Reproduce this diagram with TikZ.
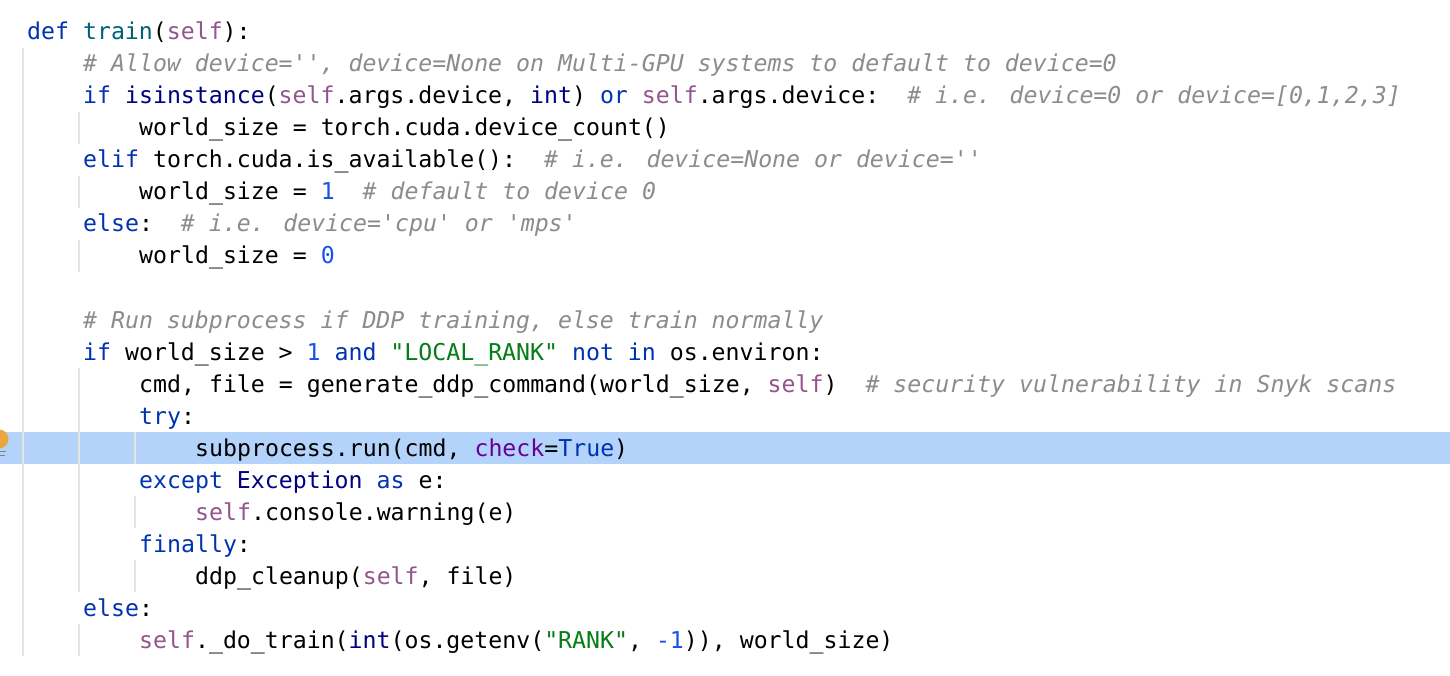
\documentclass[tikz,border=0pt]{standalone}
\usepackage{fontspec}
\newfontfamily\code{DejaVu Sans Mono}[Scale=1]
\definecolor{kw}{HTML}{0033B3}
\definecolor{sfc}{HTML}{94558D}
\definecolor{fnc}{HTML}{00627A}
\definecolor{nmc}{HTML}{1750EB}
\definecolor{stc}{HTML}{067D17}
\definecolor{cmc}{HTML}{8C8C8C}
\definecolor{bic}{HTML}{000080}
\definecolor{nac}{HTML}{660099}
\definecolor{hl}{HTML}{B3D3FA}
\definecolor{guide}{HTML}{E4E4E4}
\definecolor{bulb}{HTML}{E8A83E}
\newcommand{\cK}[1]{\textcolor{kw}{#1}}
\newcommand{\cS}[1]{\textcolor{sfc}{#1}}
\newcommand{\cF}[1]{\textcolor{fnc}{#1}}
\newcommand{\cN}[1]{\textcolor{nmc}{#1}}
\newcommand{\cT}[1]{\textcolor{stc}{#1}}
\newcommand{\cC}[1]{\textcolor{cmc}{\itshape #1}}
\newcommand{\cB}[1]{\textcolor{bic}{#1}}
\newcommand{\cA}[1]{\textcolor{nac}{#1}}
\begin{document}
\begin{tikzpicture}[x=1pt,y=-1pt,
  ln/.style={anchor=base west,inner sep=0pt,font=\code\fontsize{23.2}{28}\selectfont},
  gl/.style={draw=guide,line width=1.5pt}]
\useasboundingbox (0,0) rectangle (1450,676);
\fill[white] (0,0) rectangle (1450,676);
\fill[hl] (0,432) rectangle (1450,464);
\draw[gl] (23,48) -- (23,656);
\foreach \a/\b in {112/144,176/208,240/272,368/592,624/656}{\draw[gl] (79,\a) -- (79,\b);}
\foreach \a/\b in {432/464,496/528,560/592}{\draw[gl] (135,\a) -- (135,\b);}
\fill[bulb] (-1,439) circle (9.5);
\draw[gray,line width=1pt] (0,451) -- (6,451) (0,455) -- (5,455);
\def\L#1#2#3{\node[ln] (l#1) at (27+14*#2,40+32*#1) {#3};}
\L{0}{0}{\cK{def} \cF{train}(\cS{self}):}
\L{1}{4}{\cC{\# Allow device='', device=None on Multi-GPU systems to default to device=0}}
\L{2}{4}{\cK{if} \cB{isinstance}(\cS{self}.args.device, \cB{int}) \cK{or} \cS{self}.args.device:~~\cC{\# i.e. device=0 or device=[0,1,2,3]}}
\L{3}{8}{world\_size = torch.cuda.device\_count()}
\L{4}{4}{\cK{elif} torch.cuda.is\_available():~~\cC{\# i.e. device=None or device=''}}
\L{5}{8}{world\_size = \cN{1}~~\cC{\# default to device 0}}
\L{6}{4}{\cK{else}:~~\cC{\# i.e. device='cpu' or 'mps'}}
\L{7}{8}{world\_size = \cN{0}}
\L{9}{4}{\cC{\# Run subprocess if DDP training, else train normally}}
\L{10}{4}{\cK{if} world\_size > \cN{1} \cK{and} \cT{"LOCAL\_RANK"} \cK{not} \cK{in} os.environ:}
\L{11}{8}{cmd, file = generate\_ddp\_command(world\_size, \cS{self})~~\cC{\# security vulnerability in Snyk scans}}
\L{12}{8}{\cK{try}:}
\L{13}{12}{subprocess.run(cmd, \cA{check}=\cK{True})}
\L{14}{8}{\cK{except} \cB{Exception} \cK{as} e:}
\L{15}{12}{\cS{self}.console.warning(e)}
\L{16}{8}{\cK{finally}:}
\L{17}{12}{ddp\_cleanup(\cS{self}, file)}
\L{18}{4}{\cK{else}:}
\L{19}{8}{\cS{self}.\_do\_train(\cB{int}(os.getenv(\cT{"RANK"}, \cN{-1})), world\_size)}
\end{tikzpicture}
\end{document}
